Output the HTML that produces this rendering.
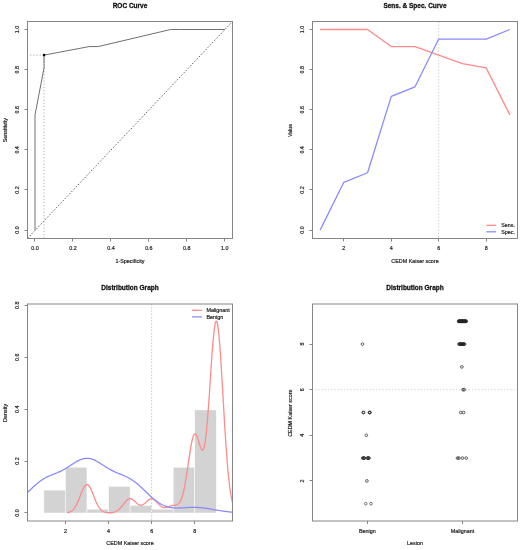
<!DOCTYPE html>
<html><head><meta charset="utf-8"><style>
html,body{margin:0;padding:0;background:#fff;}
svg{display:block;font-family:"Liberation Sans",Arial,sans-serif;}
</style></head><body>
<svg width="521" height="550" viewBox="0 0 521 550">
<defs><filter id="bl" x="0" y="0" width="1" height="1"><feGaussianBlur stdDeviation="0.35"/></filter></defs>
<rect width="521" height="550" fill="#fff"/>
<g filter="url(#bl)">
<rect width="521" height="550" fill="#fff"/>
<line x1="34.50" y1="238.50" x2="34.50" y2="241.50" stroke="#858585" stroke-width="1" />
<text x="35.00" y="250.20" font-size="5.4" text-anchor="middle" fill="#1a1a1a" stroke="#1a1a1a" stroke-width="0.18">0.0</text>
<line x1="27.50" y1="230.50" x2="24.50" y2="230.50" stroke="#858585" stroke-width="1" />
<text x="19.20" y="230.10" font-size="5.4" text-anchor="middle" fill="#1a1a1a" stroke="#1a1a1a" stroke-width="0.18" transform="rotate(-90 19.20 230.10)">0.0</text>
<line x1="72.50" y1="238.50" x2="72.50" y2="241.50" stroke="#858585" stroke-width="1" />
<text x="72.96" y="250.20" font-size="5.4" text-anchor="middle" fill="#1a1a1a" stroke="#1a1a1a" stroke-width="0.18">0.2</text>
<line x1="27.50" y1="189.50" x2="24.50" y2="189.50" stroke="#858585" stroke-width="1" />
<text x="19.20" y="189.98" font-size="5.4" text-anchor="middle" fill="#1a1a1a" stroke="#1a1a1a" stroke-width="0.18" transform="rotate(-90 19.20 189.98)">0.2</text>
<line x1="110.50" y1="238.50" x2="110.50" y2="241.50" stroke="#858585" stroke-width="1" />
<text x="110.92" y="250.20" font-size="5.4" text-anchor="middle" fill="#1a1a1a" stroke="#1a1a1a" stroke-width="0.18">0.4</text>
<line x1="27.50" y1="149.50" x2="24.50" y2="149.50" stroke="#858585" stroke-width="1" />
<text x="19.20" y="149.86" font-size="5.4" text-anchor="middle" fill="#1a1a1a" stroke="#1a1a1a" stroke-width="0.18" transform="rotate(-90 19.20 149.86)">0.4</text>
<line x1="148.50" y1="238.50" x2="148.50" y2="241.50" stroke="#858585" stroke-width="1" />
<text x="148.88" y="250.20" font-size="5.4" text-anchor="middle" fill="#1a1a1a" stroke="#1a1a1a" stroke-width="0.18">0.6</text>
<line x1="27.50" y1="109.50" x2="24.50" y2="109.50" stroke="#858585" stroke-width="1" />
<text x="19.20" y="109.74" font-size="5.4" text-anchor="middle" fill="#1a1a1a" stroke="#1a1a1a" stroke-width="0.18" transform="rotate(-90 19.20 109.74)">0.6</text>
<line x1="186.50" y1="238.50" x2="186.50" y2="241.50" stroke="#858585" stroke-width="1" />
<text x="186.84" y="250.20" font-size="5.4" text-anchor="middle" fill="#1a1a1a" stroke="#1a1a1a" stroke-width="0.18">0.8</text>
<line x1="27.50" y1="69.50" x2="24.50" y2="69.50" stroke="#858585" stroke-width="1" />
<text x="19.20" y="69.62" font-size="5.4" text-anchor="middle" fill="#1a1a1a" stroke="#1a1a1a" stroke-width="0.18" transform="rotate(-90 19.20 69.62)">0.8</text>
<line x1="224.50" y1="238.50" x2="224.50" y2="241.50" stroke="#858585" stroke-width="1" />
<text x="224.80" y="250.20" font-size="5.4" text-anchor="middle" fill="#1a1a1a" stroke="#1a1a1a" stroke-width="0.18">1.0</text>
<line x1="27.50" y1="29.50" x2="24.50" y2="29.50" stroke="#858585" stroke-width="1" />
<text x="19.20" y="29.50" font-size="5.4" text-anchor="middle" fill="#1a1a1a" stroke="#1a1a1a" stroke-width="0.18" transform="rotate(-90 19.20 29.50)">1.0</text>
<text x="130.00" y="7.50" font-size="6.5" text-anchor="middle" font-weight="bold" fill="#111" stroke="#111" stroke-width="0.26">ROC Curve</text>
<text x="130.00" y="262.70" font-size="5.4" text-anchor="middle" fill="#1a1a1a" stroke="#1a1a1a" stroke-width="0.18">1-Specificity</text>
<text x="6.60" y="130.20" font-size="5.4" text-anchor="middle" fill="#1a1a1a" stroke="#1a1a1a" stroke-width="0.18" transform="rotate(-90 6.60 130.20)">Sensitivity</text>
<clipPath id="c1"><rect x="27.5" y="21.5" width="205.0" height="217.0"/></clipPath>
<line x1="27.50" y1="238.40" x2="232.50" y2="21.50" stroke="#505050" stroke-width="0.95" stroke-dasharray="1.4,1.8" clip-path="url(#c1)"/>
<line x1="29.90" y1="55.11" x2="44.04" y2="55.11" stroke="#aaa" stroke-width="0.9" stroke-dasharray="1.4,1.8"/>
<line x1="44.04" y1="238.50" x2="44.04" y2="55.11" stroke="#aaa" stroke-width="0.9" stroke-dasharray="1.4,1.8"/>
<polyline points="35.00,230.10 35.00,114.86 44.04,67.91 44.04,63.64 44.04,55.11 89.23,46.57 98.27,46.57 170.57,29.50 179.61,29.50 224.80,29.50" fill="none" stroke="#707070" stroke-width="1" stroke-linejoin="round" />
<circle cx="44.04" cy="55.11" r="1.3" fill="#000"/>
<rect x="27.5" y="21.5" width="205.0" height="217.0" fill="none" stroke="#858585" stroke-width="1"/>
<line x1="343.50" y1="238.50" x2="343.50" y2="241.50" stroke="#858585" stroke-width="1" />
<text x="343.82" y="250.20" font-size="5.4" text-anchor="middle" fill="#1a1a1a" stroke="#1a1a1a" stroke-width="0.18">2</text>
<line x1="391.50" y1="238.50" x2="391.50" y2="241.50" stroke="#858585" stroke-width="1" />
<text x="391.26" y="250.20" font-size="5.4" text-anchor="middle" fill="#1a1a1a" stroke="#1a1a1a" stroke-width="0.18">4</text>
<line x1="438.50" y1="238.50" x2="438.50" y2="241.50" stroke="#858585" stroke-width="1" />
<text x="438.70" y="250.20" font-size="5.4" text-anchor="middle" fill="#1a1a1a" stroke="#1a1a1a" stroke-width="0.18">6</text>
<line x1="486.50" y1="238.50" x2="486.50" y2="241.50" stroke="#858585" stroke-width="1" />
<text x="486.14" y="250.20" font-size="5.4" text-anchor="middle" fill="#1a1a1a" stroke="#1a1a1a" stroke-width="0.18">8</text>
<line x1="312.50" y1="230.50" x2="309.50" y2="230.50" stroke="#858585" stroke-width="1" />
<text x="304.20" y="230.10" font-size="5.4" text-anchor="middle" fill="#1a1a1a" stroke="#1a1a1a" stroke-width="0.18" transform="rotate(-90 304.20 230.10)">0.0</text>
<line x1="312.50" y1="189.50" x2="309.50" y2="189.50" stroke="#858585" stroke-width="1" />
<text x="304.20" y="189.98" font-size="5.4" text-anchor="middle" fill="#1a1a1a" stroke="#1a1a1a" stroke-width="0.18" transform="rotate(-90 304.20 189.98)">0.2</text>
<line x1="312.50" y1="149.50" x2="309.50" y2="149.50" stroke="#858585" stroke-width="1" />
<text x="304.20" y="149.86" font-size="5.4" text-anchor="middle" fill="#1a1a1a" stroke="#1a1a1a" stroke-width="0.18" transform="rotate(-90 304.20 149.86)">0.4</text>
<line x1="312.50" y1="109.50" x2="309.50" y2="109.50" stroke="#858585" stroke-width="1" />
<text x="304.20" y="109.74" font-size="5.4" text-anchor="middle" fill="#1a1a1a" stroke="#1a1a1a" stroke-width="0.18" transform="rotate(-90 304.20 109.74)">0.6</text>
<line x1="312.50" y1="69.50" x2="309.50" y2="69.50" stroke="#858585" stroke-width="1" />
<text x="304.20" y="69.62" font-size="5.4" text-anchor="middle" fill="#1a1a1a" stroke="#1a1a1a" stroke-width="0.18" transform="rotate(-90 304.20 69.62)">0.8</text>
<line x1="312.50" y1="29.50" x2="309.50" y2="29.50" stroke="#858585" stroke-width="1" />
<text x="304.20" y="29.50" font-size="5.4" text-anchor="middle" fill="#1a1a1a" stroke="#1a1a1a" stroke-width="0.18" transform="rotate(-90 304.20 29.50)">1.0</text>
<text x="415.00" y="7.50" font-size="6.5" text-anchor="middle" font-weight="bold" fill="#111" stroke="#111" stroke-width="0.26">Sens. &amp; Spec. Curve</text>
<text x="415.00" y="262.70" font-size="5.4" text-anchor="middle" fill="#1a1a1a" stroke="#1a1a1a" stroke-width="0.18">CEDM Kaiser score</text>
<text x="291.60" y="130.40" font-size="5.4" text-anchor="middle" fill="#1a1a1a" stroke="#1a1a1a" stroke-width="0.18" transform="rotate(-90 291.60 130.40)">Value</text>
<line x1="438.70" y1="21.50" x2="438.70" y2="238.50" stroke="#c8c8c8" stroke-width="0.9" stroke-dasharray="1.4,1.8"/>
<polyline points="320.10,29.50 343.82,29.50 367.54,29.50 391.26,46.57 414.98,46.57 438.70,55.11 462.42,63.64 486.14,67.91 509.86,114.86" fill="none" stroke="#ff8a8a" stroke-width="1.3" stroke-linejoin="round" />
<polyline points="320.10,230.10 343.82,182.34 367.54,172.79 391.26,96.37 414.98,86.81 438.70,39.05 462.42,39.05 486.14,39.05 509.86,29.50" fill="none" stroke="#8888ff" stroke-width="1.25" stroke-linejoin="round" />
<line x1="486.40" y1="225.30" x2="496.20" y2="225.30" stroke="#ff8a8a" stroke-width="1.3" />
<text x="501.20" y="227.40" font-size="5.4" text-anchor="start" fill="#1a1a1a" stroke="#1a1a1a" stroke-width="0.18">Sens.</text>
<line x1="486.40" y1="231.80" x2="496.20" y2="231.80" stroke="#8888ff" stroke-width="1.25" />
<text x="501.20" y="233.90" font-size="5.4" text-anchor="start" fill="#1a1a1a" stroke="#1a1a1a" stroke-width="0.18">Spec.</text>
<rect x="312.5" y="21.5" width="205.0" height="217.0" fill="none" stroke="#858585" stroke-width="1"/>
<clipPath id="c3"><rect x="27.5" y="304" width="205.0" height="217"/></clipPath>
<rect x="43.84" y="490.09" width="21.56" height="22.91" fill="#d3d3d3" stroke="#fff" stroke-width="0.5"/>
<rect x="65.40" y="467.19" width="21.56" height="45.81" fill="#d3d3d3" stroke="#fff" stroke-width="0.5"/>
<rect x="86.96" y="509.18" width="21.56" height="3.82" fill="#d3d3d3" stroke="#fff" stroke-width="0.5"/>
<rect x="108.52" y="486.28" width="21.56" height="26.72" fill="#d3d3d3" stroke="#fff" stroke-width="0.5"/>
<rect x="130.08" y="505.36" width="21.56" height="7.64" fill="#d3d3d3" stroke="#fff" stroke-width="0.5"/>
<rect x="151.64" y="509.18" width="21.56" height="3.82" fill="#d3d3d3" stroke="#fff" stroke-width="0.5"/>
<rect x="173.20" y="467.19" width="21.56" height="45.81" fill="#d3d3d3" stroke="#fff" stroke-width="0.5"/>
<rect x="194.76" y="409.92" width="21.56" height="103.08" fill="#d3d3d3" stroke="#fff" stroke-width="0.5"/>
<line x1="151.64" y1="304.00" x2="151.64" y2="521.00" stroke="#c0c0c0" stroke-width="0.9" stroke-dasharray="1.4,1.8"/>
<polyline points="66.85,512.69 67.18,512.64 67.51,512.58 67.84,512.51 68.17,512.44 68.51,512.36 68.84,512.27 69.17,512.16 69.50,512.04 69.83,511.91 70.17,511.77 70.50,511.61 70.83,511.43 71.16,511.24 71.49,511.02 71.82,510.78 72.16,510.52 72.49,510.24 72.82,509.93 73.15,509.60 73.48,509.24 73.82,508.85 74.15,508.43 74.48,507.99 74.81,507.51 75.14,507.00 75.48,506.46 75.81,505.90 76.14,505.29 76.47,504.66 76.80,504.00 77.13,503.32 77.47,502.60 77.80,501.86 78.13,501.09 78.46,500.31 78.79,499.50 79.13,498.68 79.46,497.85 79.79,497.00 80.12,496.15 80.45,495.30 80.79,494.45 81.12,493.61 81.45,492.78 81.78,491.97 82.11,491.18 82.44,490.41 82.78,489.67 83.11,488.97 83.44,488.31 83.77,487.69 84.10,487.11 84.44,486.60 84.77,486.13 85.10,485.73 85.43,485.38 85.76,485.10 86.10,484.89 86.43,484.75 86.76,484.67 87.09,484.66 87.42,484.72 87.75,484.85 88.09,485.05 88.42,485.32 88.75,485.65 89.08,486.04 89.41,486.49 89.75,487.00 90.08,487.56 90.41,488.17 90.74,488.82 91.07,489.52 91.41,490.25 91.74,491.01 92.07,491.80 92.40,492.61 92.73,493.43 93.06,494.27 93.40,495.12 93.73,495.97 94.06,496.82 94.39,497.67 94.72,498.50 95.06,499.33 95.39,500.14 95.72,500.93 96.05,501.70 96.38,502.44 96.72,503.17 97.05,503.86 97.38,504.53 97.71,505.16 98.04,505.77 98.37,506.35 98.71,506.89 99.04,507.41 99.37,507.89 99.70,508.34 100.03,508.77 100.37,509.16 100.70,509.53 101.03,509.86 101.36,510.18 101.69,510.46 102.03,510.73 102.36,510.97 102.69,511.19 103.02,511.39 103.35,511.57 103.68,511.73 104.02,511.88 104.35,512.01 104.68,512.13 105.01,512.23 105.34,512.32 105.68,512.41 106.01,512.48 106.34,512.54 106.67,512.59 107.00,512.64 107.33,512.68 107.67,512.71 108.00,512.73 108.33,512.75 108.66,512.76 108.99,512.77 109.33,512.77 109.66,512.77 109.99,512.76 110.32,512.75 110.65,512.73 110.99,512.71 111.32,512.68 111.65,512.64 111.98,512.60 112.31,512.55 112.64,512.50 112.98,512.44 113.31,512.37 113.64,512.29 113.97,512.20 114.30,512.10 114.64,512.00 114.97,511.88 115.30,511.75 115.63,511.61 115.96,511.45 116.30,511.29 116.63,511.11 116.96,510.91 117.29,510.70 117.62,510.48 117.95,510.24 118.29,509.98 118.62,509.71 118.95,509.43 119.28,509.13 119.61,508.81 119.95,508.48 120.28,508.13 120.61,507.77 120.94,507.40 121.27,507.02 121.61,506.62 121.94,506.22 122.27,505.81 122.60,505.39 122.93,504.97 123.26,504.54 123.60,504.12 123.93,503.69 124.26,503.27 124.59,502.86 124.92,502.45 125.26,502.05 125.59,501.67 125.92,501.30 126.25,500.95 126.58,500.62 126.92,500.31 127.25,500.02 127.58,499.76 127.91,499.52 128.24,499.32 128.57,499.14 128.91,499.00 129.24,498.89 129.57,498.81 129.90,498.76 130.23,498.75 130.57,498.76 130.90,498.81 131.23,498.90 131.56,499.01 131.89,499.15 132.23,499.32 132.56,499.52 132.89,499.74 133.22,499.98 133.55,500.23 133.88,500.51 134.22,500.80 134.55,501.10 134.88,501.41 135.21,501.72 135.54,502.04 135.88,502.35 136.21,502.66 136.54,502.97 136.87,503.26 137.20,503.55 137.54,503.81 137.87,504.06 138.20,504.29 138.53,504.50 138.86,504.69 139.19,504.84 139.53,504.98 139.86,505.08 140.19,505.16 140.52,505.20 140.85,505.22 141.19,505.20 141.52,505.16 141.85,505.08 142.18,504.98 142.51,504.85 142.85,504.69 143.18,504.51 143.51,504.30 143.84,504.07 144.17,503.82 144.50,503.55 144.84,503.27 145.17,502.98 145.50,502.67 145.83,502.36 146.16,502.05 146.50,501.73 146.83,501.42 147.16,501.11 147.49,500.81 147.82,500.52 148.16,500.24 148.49,499.98 148.82,499.73 149.15,499.51 149.48,499.31 149.81,499.14 150.15,499.00 150.48,498.88 150.81,498.79 151.14,498.73 151.47,498.71 151.81,498.71 152.14,498.75 152.47,498.82 152.80,498.92 153.13,499.06 153.47,499.22 153.80,499.41 154.13,499.63 154.46,499.87 154.79,500.13 155.12,500.42 155.46,500.72 155.79,501.04 156.12,501.38 156.45,501.73 156.78,502.08 157.12,502.44 157.45,502.81 157.78,503.18 158.11,503.54 158.44,503.90 158.78,504.25 159.11,504.60 159.44,504.93 159.77,505.25 160.10,505.56 160.43,505.85 160.77,506.12 161.10,506.37 161.43,506.60 161.76,506.81 162.09,507.00 162.43,507.17 162.76,507.31 163.09,507.43 163.42,507.53 163.75,507.60 164.09,507.65 164.42,507.69 164.75,507.70 165.08,507.69 165.41,507.67 165.74,507.62 166.08,507.57 166.41,507.50 166.74,507.41 167.07,507.32 167.40,507.21 167.74,507.10 168.07,506.98 168.40,506.86 168.73,506.73 169.06,506.61 169.40,506.48 169.73,506.36 170.06,506.24 170.39,506.12 170.72,506.01 171.05,505.90 171.39,505.80 171.72,505.71 172.05,505.63 172.38,505.55 172.71,505.48 173.05,505.42 173.38,505.36 173.71,505.31 174.04,505.26 174.37,505.21 174.71,505.16 175.04,505.11 175.37,505.06 175.70,505.00 176.03,504.92 176.36,504.84 176.70,504.73 177.03,504.61 177.36,504.46 177.69,504.28 178.02,504.07 178.36,503.82 178.69,503.52 179.02,503.18 179.35,502.79 179.68,502.34 180.02,501.83 180.35,501.25 180.68,500.61 181.01,499.89 181.34,499.09 181.67,498.21 182.01,497.24 182.34,496.19 182.67,495.05 183.00,493.82 183.33,492.49 183.67,491.08 184.00,489.57 184.33,487.97 184.66,486.28 184.99,484.51 185.33,482.66 185.66,480.72 185.99,478.72 186.32,476.65 186.65,474.52 186.98,472.35 187.32,470.13 187.65,467.88 187.98,465.61 188.31,463.33 188.64,461.05 188.98,458.79 189.31,456.55 189.64,454.35 189.97,452.21 190.30,450.13 190.64,448.13 190.97,446.22 191.30,444.41 191.63,442.72 191.96,441.15 192.29,439.72 192.63,438.43 192.96,437.29 193.29,436.30 193.62,435.48 193.95,434.82 194.29,434.34 194.62,434.01 194.95,433.86 195.28,433.87 195.61,434.03 195.95,434.35 196.28,434.81 196.61,435.41 196.94,436.12 197.27,436.95 197.60,437.87 197.94,438.86 198.27,439.92 198.60,441.02 198.93,442.14 199.26,443.27 199.60,444.38 199.93,445.45 200.26,446.46 200.59,447.39 200.92,448.22 201.25,448.92 201.59,449.48 201.92,449.87 202.25,450.08 202.58,450.09 202.91,449.88 203.25,449.43 203.58,448.74 203.91,447.79 204.24,446.57 204.57,445.07 204.91,443.28 205.24,441.21 205.57,438.85 205.90,436.21 206.23,433.28 206.56,430.07 206.90,426.60 207.23,422.88 207.56,418.91 207.89,414.73 208.22,410.33 208.56,405.76 208.89,401.04 209.22,396.18 209.55,391.22 209.88,386.20 210.22,381.13 210.55,376.06 210.88,371.02 211.21,366.05 211.54,361.17 211.87,356.43 212.21,351.86 212.54,347.49 212.87,343.37 213.20,339.51 213.53,335.96 213.87,332.73 214.20,329.86 214.53,327.37 214.86,325.28 215.19,323.61 215.53,322.37 215.86,321.58 216.19,321.24 216.52,321.36 216.85,321.94 217.18,322.97 217.52,324.46 217.85,326.38 218.18,328.73 218.51,331.49 218.84,334.65 219.18,338.17 219.51,342.04 219.84,346.24 220.17,350.73 220.50,355.48 220.84,360.46 221.17,365.65 221.50,371.01 221.83,376.51 222.16,382.11 222.49,387.80 222.83,393.52 223.16,399.27 223.49,405.00 223.82,410.70 224.15,416.33 224.49,421.87 224.82,427.31 225.15,432.62 225.48,437.79 225.81,442.79 226.15,447.63 226.48,452.27 226.81,456.73 227.14,460.99 227.47,465.04 227.80,468.89 228.14,472.52 228.47,475.95 228.80,479.17 229.13,482.19 229.46,485.00 229.80,487.62 230.13,490.05 230.46,492.30 230.79,494.38 231.12,496.28 231.46,498.03 231.79,499.63 232.12,501.09 232.45,502.41 232.78,503.61 233.11,504.70 233.45,505.68 233.78,506.55 234.11,507.34 234.44,508.04 234.77,508.67 235.11,509.23 235.44,509.72 235.77,510.15 236.10,510.54 236.43,510.87" fill="none" stroke="#ff8a8a" stroke-width="1.3" stroke-linejoin="round" clip-path="url(#c3)"/>
<polyline points="-13.60,512.69 -13.08,512.66 -12.56,512.64 -12.04,512.61 -11.52,512.57 -11.00,512.54 -10.48,512.50 -9.96,512.46 -9.44,512.42 -8.92,512.37 -8.40,512.32 -7.88,512.27 -7.36,512.22 -6.84,512.16 -6.32,512.10 -5.80,512.03 -5.28,511.96 -4.76,511.88 -4.24,511.81 -3.72,511.72 -3.19,511.63 -2.67,511.54 -2.15,511.44 -1.63,511.33 -1.11,511.22 -0.59,511.11 -0.07,510.98 0.45,510.85 0.97,510.72 1.49,510.57 2.01,510.42 2.53,510.27 3.05,510.10 3.57,509.93 4.09,509.75 4.61,509.56 5.13,509.36 5.65,509.15 6.17,508.94 6.69,508.72 7.21,508.48 7.73,508.24 8.25,507.99 8.77,507.73 9.29,507.46 9.81,507.18 10.33,506.89 10.85,506.60 11.37,506.29 11.89,505.97 12.41,505.64 12.93,505.30 13.45,504.95 13.97,504.60 14.49,504.23 15.01,503.85 15.53,503.46 16.05,503.07 16.57,502.66 17.09,502.25 17.61,501.83 18.13,501.39 18.65,500.95 19.17,500.51 19.69,500.05 20.21,499.59 20.73,499.12 21.25,498.64 21.77,498.16 22.29,497.67 22.81,497.18 23.33,496.68 23.85,496.18 24.37,495.67 24.89,495.16 25.41,494.64 25.93,494.13 26.45,493.61 26.97,493.09 27.49,492.57 28.01,492.05 28.53,491.53 29.05,491.02 29.57,490.50 30.09,489.99 30.61,489.47 31.13,488.97 31.66,488.46 32.18,487.96 32.70,487.47 33.22,486.98 33.74,486.49 34.26,486.02 34.78,485.54 35.30,485.08 35.82,484.63 36.34,484.18 36.86,483.74 37.38,483.31 37.90,482.89 38.42,482.47 38.94,482.07 39.46,481.68 39.98,481.29 40.50,480.92 41.02,480.56 41.54,480.20 42.06,479.86 42.58,479.52 43.10,479.20 43.62,478.88 44.14,478.57 44.66,478.28 45.18,477.99 45.70,477.71 46.22,477.44 46.74,477.17 47.26,476.92 47.78,476.67 48.30,476.42 48.82,476.18 49.34,475.95 49.86,475.72 50.38,475.50 50.90,475.28 51.42,475.07 51.94,474.85 52.46,474.64 52.98,474.43 53.50,474.23 54.02,474.02 54.54,473.81 55.06,473.60 55.58,473.39 56.10,473.18 56.62,472.96 57.14,472.74 57.66,472.52 58.18,472.30 58.70,472.07 59.22,471.83 59.74,471.59 60.26,471.35 60.78,471.10 61.30,470.84 61.82,470.58 62.34,470.31 62.86,470.04 63.38,469.76 63.90,469.47 64.42,469.18 64.94,468.88 65.46,468.58 65.98,468.27 66.50,467.96 67.03,467.64 67.55,467.31 68.07,466.99 68.59,466.66 69.11,466.32 69.63,465.98 70.15,465.65 70.67,465.31 71.19,464.97 71.71,464.62 72.23,464.29 72.75,463.95 73.27,463.61 73.79,463.28 74.31,462.95 74.83,462.63 75.35,462.31 75.87,462.00 76.39,461.70 76.91,461.40 77.43,461.11 77.95,460.84 78.47,460.57 78.99,460.32 79.51,460.07 80.03,459.84 80.55,459.63 81.07,459.42 81.59,459.24 82.11,459.07 82.63,458.91 83.15,458.77 83.67,458.65 84.19,458.54 84.71,458.45 85.23,458.38 85.75,458.33 86.27,458.30 86.79,458.28 87.31,458.29 87.83,458.31 88.35,458.35 88.87,458.41 89.39,458.48 89.91,458.58 90.43,458.69 90.95,458.82 91.47,458.96 91.99,459.12 92.51,459.30 93.03,459.49 93.55,459.70 94.07,459.92 94.59,460.16 95.11,460.40 95.63,460.66 96.15,460.93 96.67,461.21 97.19,461.50 97.71,461.80 98.23,462.11 98.75,462.42 99.27,462.74 99.79,463.07 100.31,463.40 100.83,463.73 101.35,464.07 101.88,464.40 102.40,464.74 102.92,465.08 103.44,465.42 103.96,465.76 104.48,466.10 105.00,466.44 105.52,466.77 106.04,467.10 106.56,467.43 107.08,467.75 107.60,468.07 108.12,468.38 108.64,468.69 109.16,468.99 109.68,469.28 110.20,469.57 110.72,469.86 111.24,470.14 111.76,470.41 112.28,470.67 112.80,470.93 113.32,471.19 113.84,471.43 114.36,471.68 114.88,471.91 115.40,472.15 115.92,472.37 116.44,472.60 116.96,472.82 117.48,473.04 118.00,473.25 118.52,473.46 119.04,473.67 119.56,473.88 120.08,474.09 120.60,474.30 121.12,474.50 121.64,474.71 122.16,474.92 122.68,475.14 123.20,475.35 123.72,475.57 124.24,475.80 124.76,476.03 125.28,476.26 125.80,476.50 126.32,476.74 126.84,476.99 127.36,477.25 127.88,477.52 128.40,477.79 128.92,478.07 129.44,478.36 129.96,478.66 130.48,478.97 131.00,479.29 131.52,479.61 132.04,479.95 132.56,480.30 133.08,480.65 133.60,481.02 134.12,481.39 134.64,481.77 135.16,482.17 135.68,482.57 136.20,482.98 136.72,483.40 137.25,483.83 137.77,484.27 138.29,484.71 138.81,485.16 139.33,485.62 139.85,486.09 140.37,486.56 140.89,487.04 141.41,487.52 141.93,488.01 142.45,488.50 142.97,489.00 143.49,489.50 144.01,490.00 144.53,490.50 145.05,491.01 145.57,491.51 146.09,492.02 146.61,492.52 147.13,493.02 147.65,493.52 148.17,494.02 148.69,494.52 149.21,495.01 149.73,495.50 150.25,495.98 150.77,496.46 151.29,496.93 151.81,497.39 152.33,497.85 152.85,498.30 153.37,498.75 153.89,499.18 154.41,499.61 154.93,500.03 155.45,500.43 155.97,500.83 156.49,501.22 157.01,501.60 157.53,501.97 158.05,502.32 158.57,502.67 159.09,503.00 159.61,503.33 160.13,503.64 160.65,503.94 161.17,504.23 161.69,504.51 162.21,504.77 162.73,505.03 163.25,505.27 163.77,505.50 164.29,505.72 164.81,505.92 165.33,506.12 165.85,506.30 166.37,506.48 166.89,506.64 167.41,506.79 167.93,506.94 168.45,507.07 168.97,507.19 169.49,507.30 170.01,507.40 170.53,507.49 171.05,507.58 171.57,507.65 172.10,507.72 172.62,507.78 173.14,507.83 173.66,507.87 174.18,507.91 174.70,507.94 175.22,507.96 175.74,507.98 176.26,507.99 176.78,508.00 177.30,508.00 177.82,508.00 178.34,507.99 178.86,507.98 179.38,507.96 179.90,507.95 180.42,507.92 180.94,507.90 181.46,507.87 181.98,507.85 182.50,507.82 183.02,507.79 183.54,507.76 184.06,507.73 184.58,507.69 185.10,507.66 185.62,507.63 186.14,507.60 186.66,507.57 187.18,507.54 187.70,507.51 188.22,507.48 188.74,507.46 189.26,507.44 189.78,507.42 190.30,507.40 190.82,507.38 191.34,507.37 191.86,507.36 192.38,507.35 192.90,507.34 193.42,507.34 193.94,507.34 194.46,507.35 194.98,507.36 195.50,507.37 196.02,507.38 196.54,507.40 197.06,507.43 197.58,507.45 198.10,507.48 198.62,507.51 199.14,507.55 199.66,507.59 200.18,507.63 200.70,507.68 201.22,507.73 201.74,507.78 202.26,507.83 202.78,507.89 203.30,507.95 203.82,508.02 204.34,508.09 204.86,508.15 205.38,508.23 205.90,508.30 206.42,508.38 206.94,508.46 207.47,508.54 207.99,508.62 208.51,508.70 209.03,508.79 209.55,508.87 210.07,508.96 210.59,509.05 211.11,509.14 211.63,509.23 212.15,509.32 212.67,509.41 213.19,509.50 213.71,509.59 214.23,509.69 214.75,509.78 215.27,509.87 215.79,509.96 216.31,510.05 216.83,510.14 217.35,510.23 217.87,510.32 218.39,510.41 218.91,510.49 219.43,510.58 219.95,510.66 220.47,510.75 220.99,510.83 221.51,510.91 222.03,510.99 222.55,511.06 223.07,511.14 223.59,511.21 224.11,511.28 224.63,511.36 225.15,511.42 225.67,511.49 226.19,511.56 226.71,511.62 227.23,511.68 227.75,511.74 228.27,511.80 228.79,511.86 229.31,511.91 229.83,511.96 230.35,512.01 230.87,512.06 231.39,512.11 231.91,512.15 232.43,512.20 232.95,512.24 233.47,512.28 233.99,512.32 234.51,512.36 235.03,512.39 235.55,512.43 236.07,512.46 236.59,512.49 237.11,512.52 237.63,512.55 238.15,512.57 238.67,512.60 239.19,512.62 239.71,512.65 240.23,512.67 240.75,512.69 241.27,512.71 241.79,512.73 242.32,512.75 242.84,512.76 243.36,512.78 243.88,512.79 244.40,512.81 244.92,512.82 245.44,512.83 245.96,512.84 246.48,512.86 247.00,512.87 247.52,512.88 248.04,512.88 248.56,512.89 249.08,512.90 249.60,512.91 250.12,512.92 250.64,512.92 251.16,512.93 251.68,512.93 252.20,512.94" fill="none" stroke="#8888ff" stroke-width="1.25" stroke-linejoin="round" clip-path="url(#c3)"/>
<line x1="65.50" y1="521.00" x2="65.50" y2="524.00" stroke="#858585" stroke-width="1" />
<text x="65.40" y="532.70" font-size="5.4" text-anchor="middle" fill="#1a1a1a" stroke="#1a1a1a" stroke-width="0.18">2</text>
<line x1="108.50" y1="521.00" x2="108.50" y2="524.00" stroke="#858585" stroke-width="1" />
<text x="108.52" y="532.70" font-size="5.4" text-anchor="middle" fill="#1a1a1a" stroke="#1a1a1a" stroke-width="0.18">4</text>
<line x1="151.50" y1="521.00" x2="151.50" y2="524.00" stroke="#858585" stroke-width="1" />
<text x="151.64" y="532.70" font-size="5.4" text-anchor="middle" fill="#1a1a1a" stroke="#1a1a1a" stroke-width="0.18">6</text>
<line x1="194.50" y1="521.00" x2="194.50" y2="524.00" stroke="#858585" stroke-width="1" />
<text x="194.76" y="532.70" font-size="5.4" text-anchor="middle" fill="#1a1a1a" stroke="#1a1a1a" stroke-width="0.18">8</text>
<line x1="27.50" y1="512.50" x2="24.50" y2="512.50" stroke="#858585" stroke-width="1" />
<text x="19.20" y="513.00" font-size="5.4" text-anchor="middle" fill="#1a1a1a" stroke="#1a1a1a" stroke-width="0.18" transform="rotate(-90 19.20 513.00)">0.0</text>
<line x1="27.50" y1="461.50" x2="24.50" y2="461.50" stroke="#858585" stroke-width="1" />
<text x="19.20" y="461.08" font-size="5.4" text-anchor="middle" fill="#1a1a1a" stroke="#1a1a1a" stroke-width="0.18" transform="rotate(-90 19.20 461.08)">0.2</text>
<line x1="27.50" y1="409.50" x2="24.50" y2="409.50" stroke="#858585" stroke-width="1" />
<text x="19.20" y="409.16" font-size="5.4" text-anchor="middle" fill="#1a1a1a" stroke="#1a1a1a" stroke-width="0.18" transform="rotate(-90 19.20 409.16)">0.4</text>
<line x1="27.50" y1="357.50" x2="24.50" y2="357.50" stroke="#858585" stroke-width="1" />
<text x="19.20" y="357.24" font-size="5.4" text-anchor="middle" fill="#1a1a1a" stroke="#1a1a1a" stroke-width="0.18" transform="rotate(-90 19.20 357.24)">0.6</text>
<line x1="27.50" y1="305.50" x2="24.50" y2="305.50" stroke="#858585" stroke-width="1" />
<text x="19.20" y="305.32" font-size="5.4" text-anchor="middle" fill="#1a1a1a" stroke="#1a1a1a" stroke-width="0.18" transform="rotate(-90 19.20 305.32)">0.8</text>
<text x="130.00" y="290.30" font-size="6.5" text-anchor="middle" font-weight="bold" fill="#111" stroke="#111" stroke-width="0.26">Distribution Graph</text>
<text x="130.00" y="545.20" font-size="5.4" text-anchor="middle" fill="#1a1a1a" stroke="#1a1a1a" stroke-width="0.18">CEDM Kaiser score</text>
<text x="6.60" y="412.90" font-size="5.4" text-anchor="middle" fill="#1a1a1a" stroke="#1a1a1a" stroke-width="0.18" transform="rotate(-90 6.60 412.90)">Density</text>
<line x1="192.10" y1="310.30" x2="202.00" y2="310.30" stroke="#ff8a8a" stroke-width="1.3" />
<text x="206.40" y="312.20" font-size="5.4" text-anchor="start" fill="#1a1a1a" stroke="#1a1a1a" stroke-width="0.18">Malignant</text>
<line x1="192.10" y1="316.90" x2="202.00" y2="316.90" stroke="#8888ff" stroke-width="1.25" />
<text x="206.40" y="318.80" font-size="5.4" text-anchor="start" fill="#1a1a1a" stroke="#1a1a1a" stroke-width="0.18">Benign</text>
<rect x="27.5" y="304" width="205.0" height="217" fill="none" stroke="#858585" stroke-width="1"/>
<line x1="315.00" y1="389.70" x2="517.50" y2="389.70" stroke="#d0d0d0" stroke-width="0.9" stroke-dasharray="1.4,1.8"/>
<circle cx="365.80" cy="503.70" r="1.35" fill="none" stroke="#444" stroke-width="0.7"/>
<circle cx="371.00" cy="503.70" r="1.35" fill="none" stroke="#444" stroke-width="0.7"/>
<circle cx="366.90" cy="480.90" r="1.35" fill="none" stroke="#222" stroke-width="0.7"/>
<circle cx="362.60" cy="458.10" r="1.35" fill="none" stroke="#222" stroke-width="0.7"/>
<circle cx="363.50" cy="458.10" r="1.35" fill="none" stroke="#222" stroke-width="0.7"/>
<circle cx="364.00" cy="458.10" r="1.35" fill="none" stroke="#222" stroke-width="0.7"/>
<circle cx="364.30" cy="458.10" r="1.35" fill="none" stroke="#222" stroke-width="0.7"/>
<circle cx="367.20" cy="458.10" r="1.35" fill="none" stroke="#222" stroke-width="0.7"/>
<circle cx="368.00" cy="458.10" r="1.35" fill="none" stroke="#222" stroke-width="0.7"/>
<circle cx="368.60" cy="458.10" r="1.35" fill="none" stroke="#222" stroke-width="0.7"/>
<circle cx="369.00" cy="458.10" r="1.35" fill="none" stroke="#222" stroke-width="0.7"/>
<circle cx="366.30" cy="435.30" r="1.35" fill="none" stroke="#222" stroke-width="0.7"/>
<circle cx="363.20" cy="412.50" r="1.35" fill="none" stroke="#222" stroke-width="0.7"/>
<circle cx="369.80" cy="412.50" r="1.35" fill="none" stroke="#222" stroke-width="0.7"/>
<circle cx="363.60" cy="412.50" r="1.35" fill="none" stroke="#222" stroke-width="0.7"/>
<circle cx="369.40" cy="412.50" r="1.35" fill="none" stroke="#222" stroke-width="0.7"/>
<circle cx="369.90" cy="412.50" r="1.35" fill="none" stroke="#222" stroke-width="0.7"/>
<circle cx="362.50" cy="344.10" r="1.35" fill="none" stroke="#222" stroke-width="0.7"/>
<circle cx="457.50" cy="458.10" r="1.35" fill="none" stroke="#222" stroke-width="0.7"/>
<circle cx="458.90" cy="458.10" r="1.35" fill="none" stroke="#222" stroke-width="0.7"/>
<circle cx="462.50" cy="458.10" r="1.35" fill="none" stroke="#222" stroke-width="0.7"/>
<circle cx="466.20" cy="458.10" r="1.35" fill="none" stroke="#222" stroke-width="0.7"/>
<circle cx="460.80" cy="412.50" r="1.35" fill="none" stroke="#222" stroke-width="0.7"/>
<circle cx="463.60" cy="412.50" r="1.35" fill="none" stroke="#222" stroke-width="0.7"/>
<circle cx="463.00" cy="389.70" r="1.35" fill="none" stroke="#222" stroke-width="0.7"/>
<circle cx="464.20" cy="389.70" r="1.35" fill="none" stroke="#222" stroke-width="0.7"/>
<circle cx="461.90" cy="366.90" r="1.35" fill="none" stroke="#222" stroke-width="0.7"/>
<circle cx="459.00" cy="344.10" r="1.35" fill="none" stroke="#222" stroke-width="0.7"/>
<circle cx="459.56" cy="344.10" r="1.35" fill="none" stroke="#222" stroke-width="0.7"/>
<circle cx="460.12" cy="344.10" r="1.35" fill="none" stroke="#222" stroke-width="0.7"/>
<circle cx="460.68" cy="344.10" r="1.35" fill="none" stroke="#222" stroke-width="0.7"/>
<circle cx="461.24" cy="344.10" r="1.35" fill="none" stroke="#222" stroke-width="0.7"/>
<circle cx="461.80" cy="344.10" r="1.35" fill="none" stroke="#222" stroke-width="0.7"/>
<circle cx="462.36" cy="344.10" r="1.35" fill="none" stroke="#222" stroke-width="0.7"/>
<circle cx="462.92" cy="344.10" r="1.35" fill="none" stroke="#222" stroke-width="0.7"/>
<circle cx="463.48" cy="344.10" r="1.35" fill="none" stroke="#222" stroke-width="0.7"/>
<circle cx="464.04" cy="344.10" r="1.35" fill="none" stroke="#222" stroke-width="0.7"/>
<circle cx="464.60" cy="344.10" r="1.35" fill="none" stroke="#222" stroke-width="0.7"/>
<circle cx="458.60" cy="321.30" r="1.35" fill="none" stroke="#222" stroke-width="0.7"/>
<circle cx="458.89" cy="321.30" r="1.35" fill="none" stroke="#222" stroke-width="0.7"/>
<circle cx="459.18" cy="321.30" r="1.35" fill="none" stroke="#222" stroke-width="0.7"/>
<circle cx="459.48" cy="321.30" r="1.35" fill="none" stroke="#222" stroke-width="0.7"/>
<circle cx="459.77" cy="321.30" r="1.35" fill="none" stroke="#222" stroke-width="0.7"/>
<circle cx="460.06" cy="321.30" r="1.35" fill="none" stroke="#222" stroke-width="0.7"/>
<circle cx="460.35" cy="321.30" r="1.35" fill="none" stroke="#222" stroke-width="0.7"/>
<circle cx="460.65" cy="321.30" r="1.35" fill="none" stroke="#222" stroke-width="0.7"/>
<circle cx="460.94" cy="321.30" r="1.35" fill="none" stroke="#222" stroke-width="0.7"/>
<circle cx="461.23" cy="321.30" r="1.35" fill="none" stroke="#222" stroke-width="0.7"/>
<circle cx="461.52" cy="321.30" r="1.35" fill="none" stroke="#222" stroke-width="0.7"/>
<circle cx="461.82" cy="321.30" r="1.35" fill="none" stroke="#222" stroke-width="0.7"/>
<circle cx="462.11" cy="321.30" r="1.35" fill="none" stroke="#222" stroke-width="0.7"/>
<circle cx="462.40" cy="321.30" r="1.35" fill="none" stroke="#222" stroke-width="0.7"/>
<circle cx="462.69" cy="321.30" r="1.35" fill="none" stroke="#222" stroke-width="0.7"/>
<circle cx="462.98" cy="321.30" r="1.35" fill="none" stroke="#222" stroke-width="0.7"/>
<circle cx="463.28" cy="321.30" r="1.35" fill="none" stroke="#222" stroke-width="0.7"/>
<circle cx="463.57" cy="321.30" r="1.35" fill="none" stroke="#222" stroke-width="0.7"/>
<circle cx="463.86" cy="321.30" r="1.35" fill="none" stroke="#222" stroke-width="0.7"/>
<circle cx="464.15" cy="321.30" r="1.35" fill="none" stroke="#222" stroke-width="0.7"/>
<circle cx="464.45" cy="321.30" r="1.35" fill="none" stroke="#222" stroke-width="0.7"/>
<circle cx="464.74" cy="321.30" r="1.35" fill="none" stroke="#222" stroke-width="0.7"/>
<circle cx="465.03" cy="321.30" r="1.35" fill="none" stroke="#222" stroke-width="0.7"/>
<circle cx="465.32" cy="321.30" r="1.35" fill="none" stroke="#222" stroke-width="0.7"/>
<circle cx="465.62" cy="321.30" r="1.35" fill="none" stroke="#222" stroke-width="0.7"/>
<circle cx="465.91" cy="321.30" r="1.35" fill="none" stroke="#222" stroke-width="0.7"/>
<circle cx="466.20" cy="321.30" r="1.35" fill="none" stroke="#222" stroke-width="0.7"/>
<line x1="367.50" y1="521.00" x2="367.50" y2="524.00" stroke="#858585" stroke-width="1" />
<text x="367.30" y="532.70" font-size="5.4" text-anchor="middle" fill="#1a1a1a" stroke="#1a1a1a" stroke-width="0.18">Benign</text>
<line x1="462.50" y1="521.00" x2="462.50" y2="524.00" stroke="#858585" stroke-width="1" />
<text x="462.50" y="532.70" font-size="5.4" text-anchor="middle" fill="#1a1a1a" stroke="#1a1a1a" stroke-width="0.18">Malignant</text>
<line x1="312.50" y1="480.50" x2="309.50" y2="480.50" stroke="#858585" stroke-width="1" />
<text x="304.20" y="480.90" font-size="5.4" text-anchor="middle" fill="#1a1a1a" stroke="#1a1a1a" stroke-width="0.18" transform="rotate(-90 304.20 480.90)">2</text>
<line x1="312.50" y1="435.50" x2="309.50" y2="435.50" stroke="#858585" stroke-width="1" />
<text x="304.20" y="435.30" font-size="5.4" text-anchor="middle" fill="#1a1a1a" stroke="#1a1a1a" stroke-width="0.18" transform="rotate(-90 304.20 435.30)">4</text>
<line x1="312.50" y1="389.50" x2="309.50" y2="389.50" stroke="#858585" stroke-width="1" />
<text x="304.20" y="389.70" font-size="5.4" text-anchor="middle" fill="#1a1a1a" stroke="#1a1a1a" stroke-width="0.18" transform="rotate(-90 304.20 389.70)">6</text>
<line x1="312.50" y1="344.50" x2="309.50" y2="344.50" stroke="#858585" stroke-width="1" />
<text x="304.20" y="344.10" font-size="5.4" text-anchor="middle" fill="#1a1a1a" stroke="#1a1a1a" stroke-width="0.18" transform="rotate(-90 304.20 344.10)">8</text>
<text x="415.00" y="290.30" font-size="6.5" text-anchor="middle" font-weight="bold" fill="#111" stroke="#111" stroke-width="0.26">Distribution Graph</text>
<text x="415.00" y="545.20" font-size="5.4" text-anchor="middle" fill="#1a1a1a" stroke="#1a1a1a" stroke-width="0.18">Lesion</text>
<text x="291.60" y="413.10" font-size="5.4" text-anchor="middle" fill="#1a1a1a" stroke="#1a1a1a" stroke-width="0.18" transform="rotate(-90 291.60 413.10)">CEDM Kaiser score</text>
<rect x="312.5" y="304" width="205.0" height="217" fill="none" stroke="#858585" stroke-width="1"/>
</g>
</svg>
</body></html>
